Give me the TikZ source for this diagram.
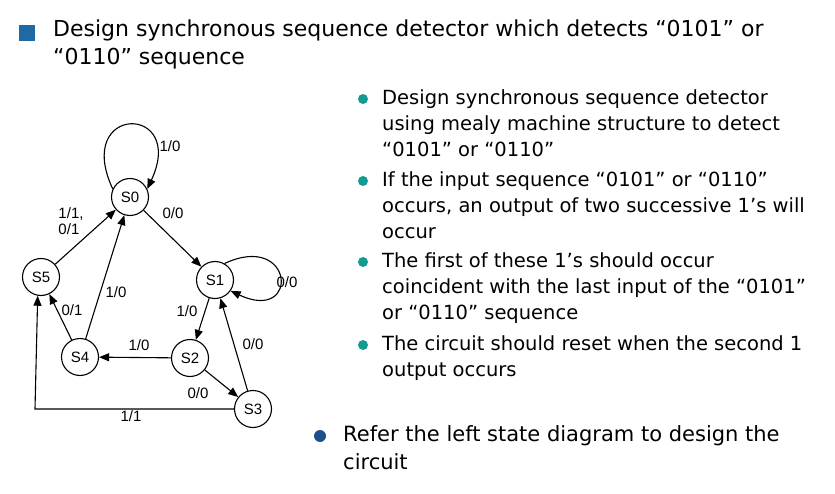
\documentclass[tikz,border=0pt]{standalone}
\usepackage{fontspec}
\setmainfont{DejaVu Sans}
\newfontfamily\lbf{Liberation Sans}
\usetikzlibrary{arrows.meta}
\definecolor{sq}{HTML}{1F6AA5}
\definecolor{teal}{HTML}{139A94}
\definecolor{navy}{HTML}{1F4E8C}
\begin{document}
\begin{tikzpicture}[x=1pt,y=-1pt,
  st/.style={circle,draw,line width=1.1pt,minimum size=37pt,inner sep=0pt,font=\lbf\fontsize{15}{16}\selectfont},
  tr/.style={-{Triangle[length=10pt,width=8pt]},line width=1.1pt},
  lb/.style={font=\lbf\fontsize{15}{16}\selectfont,inner sep=1pt},
  bt/.style={anchor=north west,align=left,inner sep=0pt,font=\fontsize{19.5}{26}\selectfont},
  tt/.style={anchor=north west,align=left,inner sep=0pt,font=\fontsize{22}{28}\selectfont}]
\useasboundingbox (0,0) rectangle (835,494);
\fill[sq] (19,25) rectangle (35,41);
\node[tt] (title) at (53,20) {Design synchronous sequence detector which detects “0101” or\\“0110” sequence};
\foreach \y/\n in {99/a,181/b,262/c,345/d}{\fill[teal] (363,\y) circle (5);}
\node[bt] (t1) at (382,89) {Design synchronous sequence detector\\using mealy machine structure to detect\\“0101” or “0110”};
\node[bt] (t2) at (382,171) {If the input sequence “0101” or “0110"\\occurs, an output of two successive 1’s will\\occur};
\node[bt] (t3) at (382,252) {The first of these 1’s should occur\\coincident with the last input of the “0101”\\or “0110” sequence};
\node[bt] (t4) at (382,335) {The circuit should reset when the second 1\\output occurs};
\fill[navy] (320,436) circle (6);
\node[tt,font=\fontsize{21}{28}\selectfont] (t5) at (343,425) {Refer the left state diagram to design the\\circuit};
% diagram
\node[st] (S0) at (130,197) {S0};
\node[st] (S1) at (215,280) {S1};
\node[st] (S5) at (41,277) {S5};
\node[st] (S4) at (80,357) {S4};
\node[st] (S2) at (190,358) {S2};
\node[st] (S3) at (253,409) {S3};
\draw[tr] (S0.155) to[out=115,in=65,looseness=7] (S0.25);
\node[lb] (l00) at (170,146) {1/0};
\draw[tr] (S1.60) to[out=25,in=-25,looseness=7] (S1.-35);
\node[lb] (l11) at (287,282) {0/0};
\draw[tr] (S0) -- (S1);
\node[lb] (l01) at (173,213) {0/0};
\draw[tr] (S1) -- (S2);
\node[lb] (l12) at (187,311) {1/0};
\draw[tr] (S2) -- (S4);
\node[lb] (l24) at (139,345) {1/0};
\draw[tr] (S2) -- (S3);
\node[lb] (l23) at (198,393) {0/0};
\draw[tr] (S3) -- (S1);
\node[lb] (l31) at (253,344) {0/0};
\draw[tr] (S4) -- (S5);
\node[lb] (l45) at (72,310) {0/1};
\draw[tr] (S4) -- (S0);
\node[lb] (l40) at (116,292) {1/0};
\draw[tr] (S5) -- (S0);
\node[lb,align=left] (l50) at (71,221) {1/1,\\0/1};
\draw[tr] (S3.west) -- (35,409) -- (S5.-100);
\node[lb] (l35) at (131,416) {1/1};
\end{tikzpicture}
\end{document}
